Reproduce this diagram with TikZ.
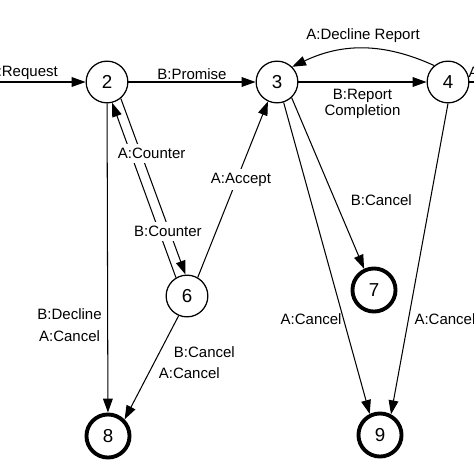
\documentclass[tikz,border=0pt]{standalone}
\usepackage{fontspec}
\setmainfont{Liberation Sans}
\usetikzlibrary{arrows.meta}
\begin{document}
\begin{tikzpicture}[x=0.02532cm,y=-0.02532cm,
	state/.style={circle,draw,line width=.9pt,minimum size=1.056cm,inner sep=0pt,font=\fontsize{13.5}{15}\selectfont},
	final/.style={state,line width=2.8pt,minimum size=1.09cm},
	arr/.style={-{Triangle[length=10pt,width=7pt]},line width=.75pt},
	lbl/.style={font=\fontsize{10.8}{15.8}\selectfont,inner sep=1pt},
	gap/.style={lbl,fill=white,inner sep=3pt}]
	\useasboundingbox (0,0) rectangle (474,474);
	\node[state] (n2) at (107,82) {2};
	\node[state] (n3) at (277,82) {3};
	\node[state] (n4) at (448,82) {4};
	\node[state] (n6) at (187,296) {6};
	\node[final] (n7) at (374,290) {7};
	\node[final] (n8) at (108,436) {8};
	\node[final] (n9) at (380,435) {9};
	\coordinate (src) at (-40,82);
	\coordinate (sink) at (520,82);
	\draw[arr] (src) -- node[lbl,above]{A:Request} (n2);
	\draw[arr] (n2) -- node[lbl,above]{B:Promise} (n3);
	\draw[arr] (n3) -- node[lbl,below,align=center,yshift=-3.5pt]{B:Report\\[-4pt]Completion} (n4);
	\draw[arr] (n4.130) to[bend right=25] node[lbl,above,yshift=3pt]{A:Decline Report} (n3.45);
	\draw[arr] (n4) -- node[lbl,pos=0,anchor=south west,xshift=-2pt,yshift=2pt]{A} (sink);
	\draw[arr] (n6.121) -- (n2.-76);
	\draw[arr] (n2.-50) -- (n6.94);
	\path (n2) -- node[gap,pos=.294,xshift=13pt]{A:Counter} node[gap,pos=.746,xshift=3.6pt]{B:Counter} (n6);
	\draw[arr] (n6.60) -- node[gap,pos=.556,xshift=3pt]{A:Accept} (n3.-115);
	\draw[arr] (n2) -- node[lbl,left,pos=.717,align=center,xshift=-3pt]{B:Decline\\A:Cancel} (n8);
	\draw[arr] (n6.-113) -- node[lbl,anchor=west,pos=.353,xshift=9pt]{B:Cancel} node[lbl,anchor=west,pos=.555,xshift=6pt]{A:Cancel} (n8.45);
	\draw[arr] (n3.-47) -- node[lbl,anchor=west,pos=.6,xshift=10pt]{B:Cancel} (n7.115);
	\draw[arr] (n3.-72) -- node[lbl,anchor=east,pos=.695]{A:Cancel} (n9.116);
	\draw[arr] (n4.-90) -- node[lbl,anchor=west,pos=.694,xshift=3pt]{A:Cancel} (n9.62);
\end{tikzpicture}
\end{document}
